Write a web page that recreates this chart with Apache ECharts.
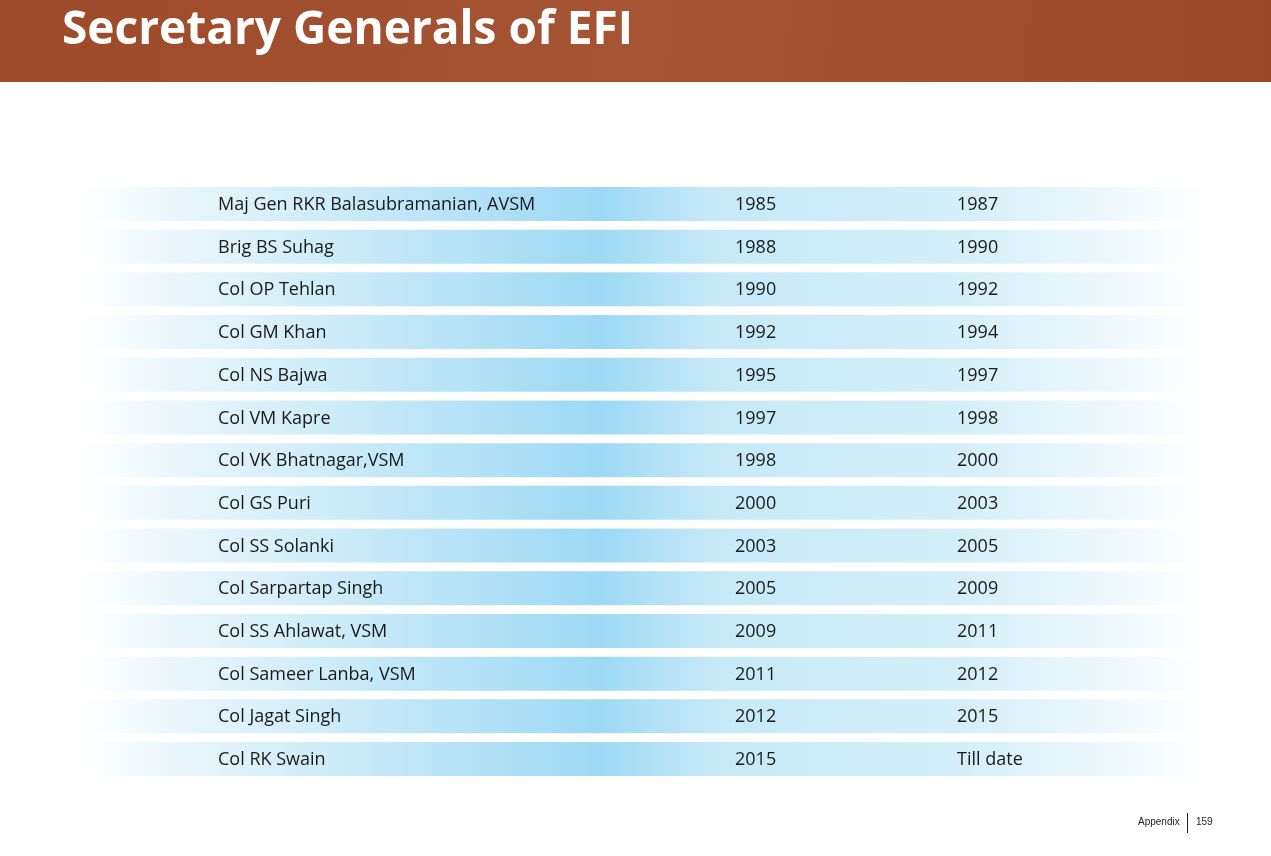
<!DOCTYPE html>
<html>
<head>
<meta charset="utf-8">
<script src="https://cdn.jsdelivr.net/npm/echarts@6/dist/echarts.min.js"></script>
<style>html,body{margin:0;padding:0;background:#fff}#main{width:1271px;height:856px}</style>
</head>
<body>
<div id="main"></div>
<script>
var names = ['Maj Gen RKR Balasubramanian, AVSM', 'Brig BS Suhag', 'Col OP Tehlan', 'Col GM Khan',
    'Col NS Bajwa', 'Col VM Kapre', 'Col VK Bhatnagar,VSM', 'Col GS Puri', 'Col SS Solanki',
    'Col Sarpartap Singh', 'Col SS Ahlawat, VSM', 'Col Sameer Lanba, VSM', 'Col Jagat Singh', 'Col RK Swain'];
var fromYears = ['1985', '1988', '1990', '1992', '1995', '1997', '1998', '2000', '2003', '2005', '2009', '2011', '2012', '2015'];
var toYears = ['1987', '1990', '1992', '1994', '1997', '1998', '2000', '2003', '2005', '2009', '2011', '2012', '2015', 'Till date'];

var myChart = echarts.init(document.getElementById('main'));
var font = '"Open Sans", "DejaVu Sans", sans-serif';

var rows = names.map(function (n, i) { return [i]; });

var bandFill = new echarts.graphic.LinearGradient(0, 0, 1, 0, [
    {offset: 0, color: 'rgba(255,255,255,1)'},
    {offset: 0.1, color: '#e6f5fc'},
    {offset: 0.46, color: '#9dd9f4'},
    {offset: 0.56, color: '#c6e9f8'},
    {offset: 0.78, color: '#d4eff9'},
    {offset: 1, color: 'rgba(255,255,255,1)'}
]);

var option = {
    animation: false,
    grid: {left: 0, right: 0, top: 182.6, bottom: 75.6},
    xAxis: {type: 'value', min: 0, max: 1271, show: false},
    yAxis: {type: 'category', data: names, inverse: true, show: false},
    graphic: [
        {type: 'rect', shape: {x: 0, y: 0, width: 1271, height: 82},
         style: {fill: new echarts.graphic.LinearGradient(0, 0, 1, 1, [
             {offset: 0, color: '#9c4a2a'}, {offset: 0.5, color: '#a65534'}, {offset: 1, color: '#9a4828'}])}},
        {type: 'text', left: 62, top: 8,
         style: {text: 'Secretary Generals of EFI', fill: '#fff', font: 'bold 46px ' + font}},
        {type: 'text', left: 1138, top: 817,
         style: {text: 'Appendix', fill: '#222', font: '10px "Liberation Sans", sans-serif'}},
        {type: 'rect', shape: {x: 1187, y: 813, width: 1, height: 20}, style: {fill: '#222'}},
        {type: 'text', left: 1196, top: 817,
         style: {text: '159', fill: '#222', font: '10px "Liberation Sans", sans-serif'}}
    ],
    series: [{
        type: 'custom',
        data: rows,
        encode: {y: 0},
        renderItem: function (params, api) {
            var idx = api.value(0);
            var cy = api.coord([0, idx])[1];
            var x0 = api.coord([80, 0])[0], x1 = api.coord([1210, 0])[0];
            var ts = {fill: '#1a1a1a', font: '18px ' + font, verticalAlign: 'middle'};
            function t(x, s) {
                return {type: 'text', style: Object.assign({x: api.coord([x, 0])[0], y: cy + 1, text: s}, ts)};
            }
            return {
                type: 'group',
                children: [
                    {type: 'rect', shape: {x: x0, y: cy - 17, width: x1 - x0, height: 34}, style: {fill: bandFill}},
                    t(218, names[idx]),
                    t(735, fromYears[idx]),
                    t(957, toYears[idx])
                ]
            };
        }
    }]
};

myChart.setOption(option);
</script>
</body>
</html>
